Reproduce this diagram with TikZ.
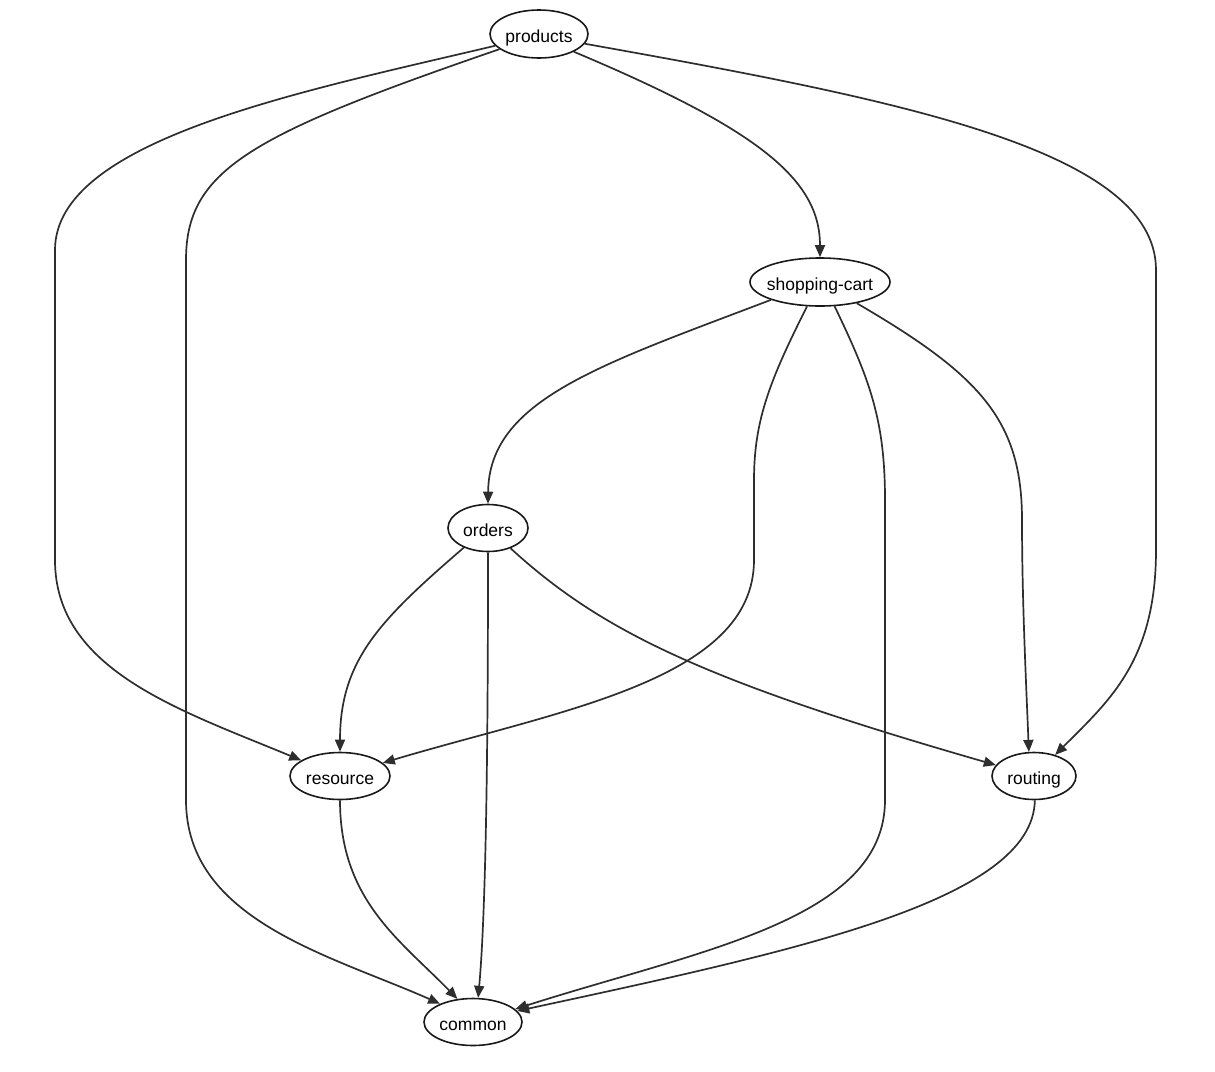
\documentclass[tikz,border=0pt]{standalone}
\usepackage{fontspec}
\setmainfont{Liberation Sans}
\usetikzlibrary{shapes.geometric,arrows.meta}
\newcommand\nodelbl[1]{\makebox[0pt]{#1}}
\begin{document}
\begin{tikzpicture}[x=1pt,y=-1pt,
  nd/.style={ellipse,draw=black!90,line width=1.6pt,inner sep=0pt,font=\fontsize{17.5}{20}\selectfont,text=black,text height=17pt,text depth=1pt},
  ed/.style={draw=black!82,line width=1.7pt,-{Triangle[length=12pt,width=10pt]}}]
\useasboundingbox (0,0) rectangle (1215,1071);
\node[nd,minimum width=98pt,minimum height=48pt] (products) at (539,34) {\nodelbl{products}};
\node[nd,minimum width=140pt,minimum height=48pt] (cart) at (820,282) {\nodelbl{shopping-cart}};
\node[nd,minimum width=80pt,minimum height=47pt] (orders) at (488,528) {\nodelbl{orders}};
\node[nd,minimum width=100pt,minimum height=47pt] (resource) at (340,776) {\nodelbl{resource}};
\node[nd,minimum width=84pt,minimum height=47pt] (routing) at (1034,776) {\nodelbl{routing}};
\node[nd,minimum width=98pt,minimum height=47pt] (common) at (473,1022) {\nodelbl{common}};
% products
\draw[ed] (products.195) .. controls (300,92) and (55,140) .. (55,250) -- (55,560) .. controls (55,670) and (180,710) .. (resource.158);
\draw[ed] (products.201) .. controls (250,135) and (186,170) .. (186,260) -- (186,800) .. controls (186,920) and (330,955) .. (common.151);
\draw[ed] (products.333) .. controls (760,130) and (820,180) .. (cart.90);
\draw[ed] (products.348) .. controls (900,100) and (1156,150) .. (1156,270) -- (1156,550) .. controls (1156,660) and (1110,700) .. (routing.45);
% shopping-cart
\draw[ed] (cart.200) .. controls (600,365) and (489,400) .. (orders.90);
\draw[ed] (cart.242) .. controls (770,380) and (754,420) .. (754,480) -- (754,560) .. controls (754,680) and (560,710) .. (resource.17);
\draw[ed] (cart.301) .. controls (870,380) and (885,420) .. (885,500) -- (885,800) .. controls (885,920) and (700,950) .. (common.17);
\draw[ed] (cart.330) .. controls (980,375) and (1022,420) .. (1022,520) .. controls (1022,600) and (1026,680) .. (routing.102);
% orders
\draw[ed] (orders.219) .. controls (380,620) and (340,660) .. (resource.90);
\draw[ed] (orders.270) .. controls (488,700) and (487,900) .. (common.78);
\draw[ed] (orders.318) .. controls (600,630) and (700,680) .. (routing.164);
% resource, routing
\draw[ed] (resource.270) .. controls (340,900) and (400,940) .. (common.124);
\draw[ed] (routing.272) .. controls (1033,900) and (800,950) .. (common.14);
\end{tikzpicture}
\end{document}
